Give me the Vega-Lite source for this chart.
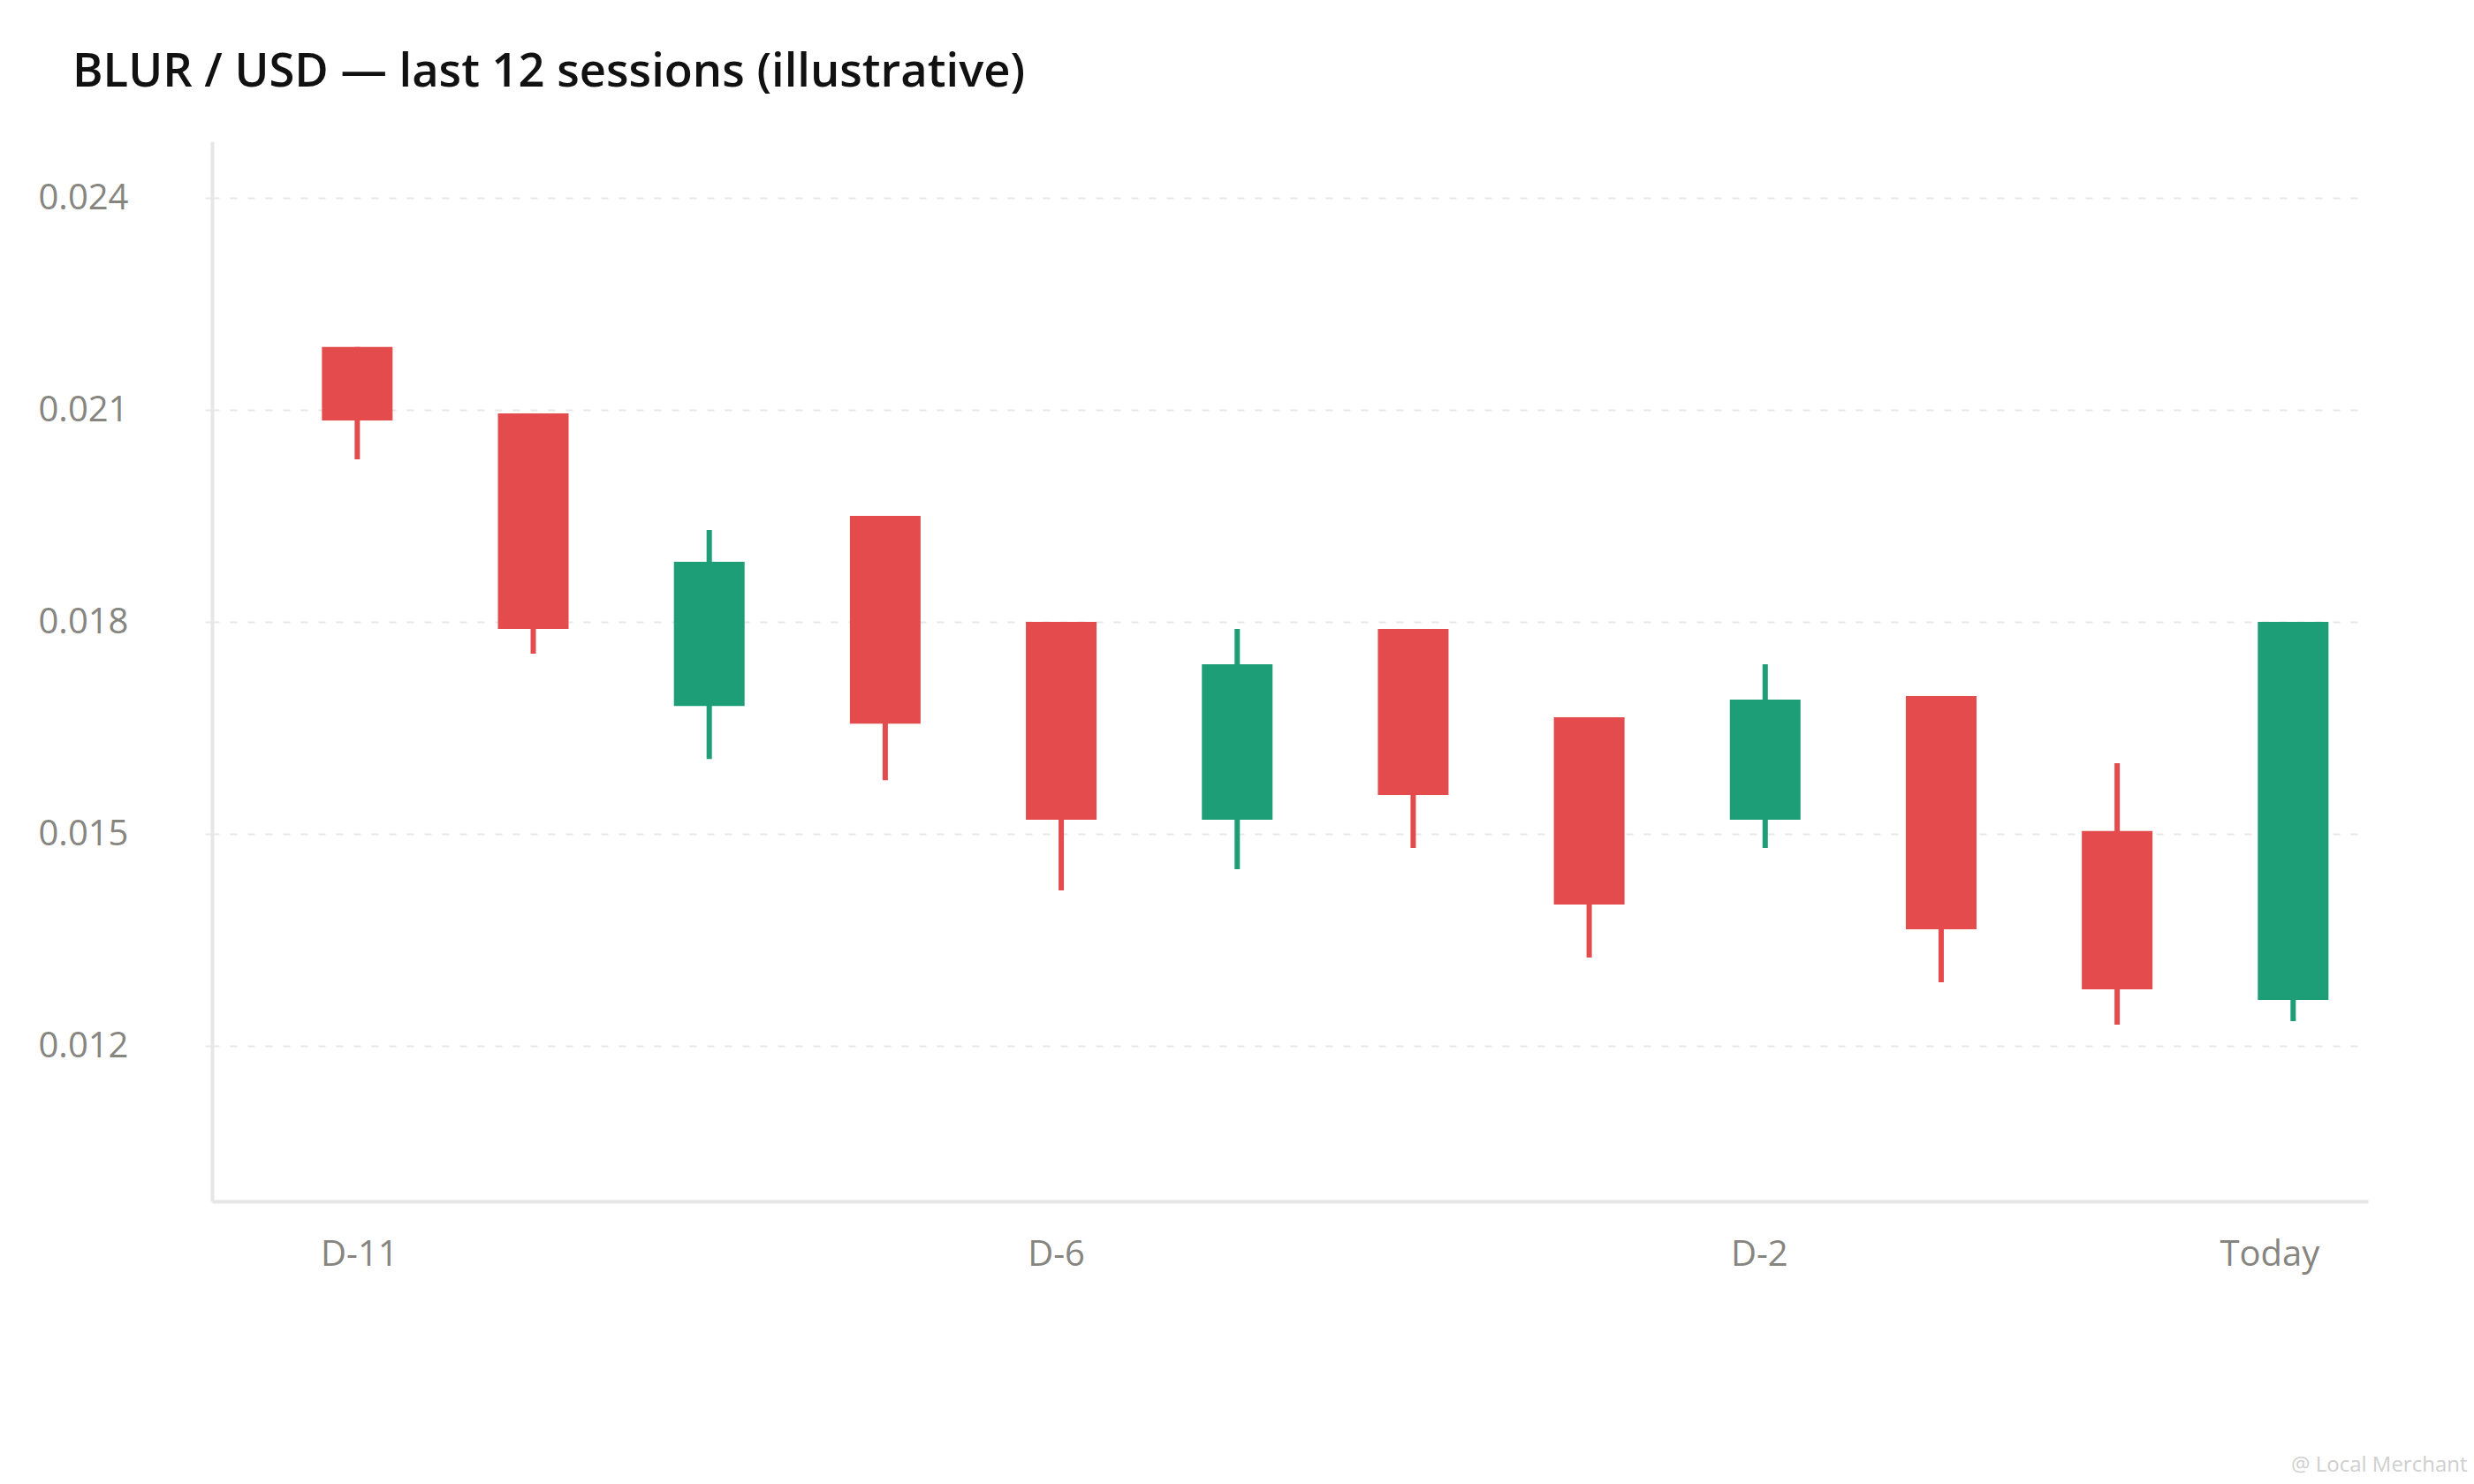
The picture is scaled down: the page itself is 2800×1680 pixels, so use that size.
{
  "$schema": "https://vega.github.io/schema/vega-lite/v6.json",
  "width": 2440,
  "height": 1200,
  "autosize": "none",
  "padding": {"left": 240, "top": 160, "right": 120, "bottom": 320},
  "background": "white",
  "config": {"view": {"stroke": null}},
  "title": {
    "text": "BLUR / USD — last 12 sessions (illustrative)",
    "anchor": "start",
    "frame": "group",
    "dx": -158,
    "offset": 10,
    "baseline": "alphabetic",
    "fontSize": 52.5,
    "font": "Open Sans",
    "fontWeight": 600,
    "color": "#111111"
  },
  "data": {
    "values": [
      {"idx": 0, "open": 0.02189, "high": 0.02189, "low": 0.02030, "close": 0.02085},
      {"idx": 1, "open": 0.02095, "high": 0.02095, "low": 0.01755, "close": 0.01790},
      {"idx": 2, "open": 0.01681, "high": 0.01930, "low": 0.01606, "close": 0.01885},
      {"idx": 3, "open": 0.01950, "high": 0.01950, "low": 0.01576, "close": 0.01656},
      {"idx": 4, "open": 0.01800, "high": 0.01800, "low": 0.01420, "close": 0.01520},
      {"idx": 5, "open": 0.01520, "high": 0.01790, "low": 0.01450, "close": 0.01740},
      {"idx": 6, "open": 0.01790, "high": 0.01790, "low": 0.01480, "close": 0.01555},
      {"idx": 7, "open": 0.01665, "high": 0.01665, "low": 0.01325, "close": 0.01400},
      {"idx": 8, "open": 0.01520, "high": 0.01740, "low": 0.01480, "close": 0.01690},
      {"idx": 9, "open": 0.01695, "high": 0.01695, "low": 0.01290, "close": 0.01365},
      {"idx": 10, "open": 0.01504, "high": 0.01600, "low": 0.01230, "close": 0.01280},
      {"idx": 11, "open": 0.01265, "high": 0.01800, "low": 0.01235, "close": 0.01800}
    ]
  },
  "encoding": {
    "x": {
      "field": "idx",
      "type": "quantitative",
      "scale": {"domain": [-0.8, 11.4], "nice": false, "zero": false},
      "axis": {
        "values": [0.01, 3.97, 7.965, 10.865],
        "labelExpr": "datum.value < 1 ? 'D-11' : datum.value < 5 ? 'D-6' : datum.value < 9 ? 'D-2' : 'Today'",
        "grid": false,
        "ticks": false,
        "domainColor": "#e6e6e6",
        "domainWidth": 4,
        "labelPadding": 40,
        "labelFontSize": 40,
        "labelFont": "Open Sans",
        "labelColor": "#86857f",
        "title": "@ Local Merchant",
        "titleFont": "Open Sans",
        "titleFontSize": 24,
        "titleFontWeight": "normal",
        "titleColor": "#cfcfcf",
        "titleAlign": "right",
        "titleAnchor": "end",
        "titleBaseline": "alphabetic",
        "titleX": 2552,
        "titleY": 305
      }
    },
    "color": {
      "condition": {"test": "datum.close >= datum.open", "value": "#1e9e76"},
      "value": "#e34b4c"
    }
  },
  "layer": [
    {
      "mark": {"type": "rule", "strokeWidth": 6},
      "encoding": {
        "y": {
          "field": "low",
          "type": "quantitative",
          "scale": {"domain": [0.0098, 0.0248], "nice": false, "zero": false},
          "axis": {
            "values": [0.012, 0.015, 0.018, 0.021, 0.024],
            "format": ".3f",
            "grid": true,
            "gridDash": [8, 12],
            "gridColor": "#e8e8e8",
            "gridWidth": 2,
            "domainColor": "#e6e6e6",
            "domainWidth": 4,
            "tickSize": 20,
            "tickColor": "#e8e8e8",
            "tickDash": [8, 12],
            "tickWidth": 2,
            "labelPadding": 75,
            "labelFontSize": 40,
            "labelFont": "Open Sans",
            "labelColor": "#86857f",
            "title": null
          }
        },
        "y2": {"field": "high"}
      }
    },
    {
      "mark": {"type": "bar", "width": 80},
      "encoding": {
        "y": {"field": "open", "type": "quantitative"},
        "y2": {"field": "close"}
      }
    }
  ]
}
